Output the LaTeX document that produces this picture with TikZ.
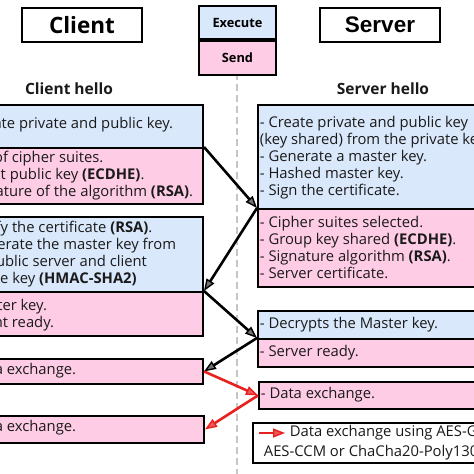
\documentclass[tikz,border=0pt]{standalone}
\usepackage{fontspec}
\setmainfont{Open Sans}
\newfontfamily\headfont{Liberation Sans}
\usepackage{tikz}
\usetikzlibrary{positioning}
\usetikzlibrary{arrows.meta}
\definecolor{execblue}{HTML}{DAE8FC}
\definecolor{sendpink}{HTML}{FFCCE6}
\definecolor{inkgray}{HTML}{1A1A1A}
\definecolor{dataRed}{HTML}{E8201E}
\tikzset{blue box/.style={rectangle,draw,line width=1.8pt,fill=execblue,inner sep=0pt},
         pink box/.style={rectangle,draw,line width=1.8pt,fill=sendpink,inner sep=0pt},
         title box/.style={rectangle,draw,line width=1.8pt,fill=white,minimum width=120,minimum height=34,font=\fontsize{22.5}{26}\selectfont\bfseries},
         line text/.style={inner sep=0pt,align=left,text=inkgray,font=\fontsize{14.8}{17}\selectfont},
         hello text/.style={inner sep=0pt,text=inkgray,font=\fontsize{15.5}{18}\selectfont\bfseries},
         msg/.style={line width=2.6pt,-{Triangle[length=12pt,width=9pt,fill=black!55,line width=1.4pt]}},
         data msg/.style={line width=2.6pt,dataRed,-{Triangle[length=12pt,width=9pt,fill=dataRed!75,line width=1.4pt]}},}

\begin{document}
\begin{tikzpicture}[x=1pt,y=-1pt,line width=1.8pt]
    \useasboundingbox (0,0) rectangle (474,474);
    \clip (0,0) rectangle (474,474);

    % timeline
    \draw[line width=1.8pt,gray!45,dash pattern=on 7pt off 4pt] (237,73) -- (237,474);

    % headers
    \node[title box] (client) at (82,25) {Client};
    \node[title box,font=\fontsize{22.5}{26}\selectfont\headfont\bfseries] (server) at (380,25) {Server};
    \node[blue box,minimum width=77,minimum height=33,font=\fontsize{12.8}{15}\selectfont\bfseries] (execute) at (237.5,22.5) {Execute};
    \node[pink box,minimum width=77,minimum height=34,font=\fontsize{12.8}{15}\selectfont\bfseries] (send) [below=0pt of execute] {Send};

    \node[hello text] (chello) at (69,89) {Client hello};
    \node[hello text] (shello) at (383,89) {Server hello};

    % client side
    \node[blue box,minimum width=240,minimum height=43,anchor=north east] (c1) at (204,104) {};
    \node[pink box,minimum width=240,minimum height=56,anchor=north east] (c2) at (204,147) {};
    \node[blue box,minimum width=240,minimum height=75,anchor=north east] (c3) at (204,216) {};
    \node[pink box,minimum width=240,minimum height=44,anchor=north east] (c4) at (204,291) {};
    \node[pink box,minimum width=240,minimum height=25,anchor=north east] (c5) at (204,358) {};
    \node[pink box,minimum width=240,minimum height=27,anchor=north east] (c6) at (205,415) {};

    \node[line text,anchor=east] (c1t) at (174,125) {- Create private and public key.};
    \node[line text,anchor=east] (c2t) at (194,175.5) {- List of cipher suites.\\- Client public key \textbf{(ECDHE)}.\\- Signature of the algorithm \textbf{(RSA)}.};
    \node[line text,anchor=east] (c3t) at (177,254) {- Verify the certificate \textbf{(RSA)}.\\- Generate the master key from\\the public server and client\\private key \textbf{(HMAC-SHA2)}};
    \node[line text,anchor=east] (c4t) at (55,315.5) {- Master key.\\- Client ready.};
    \node[line text,anchor=east] (c5t) at (77,371) {- Data exchange.};
    \node[line text,anchor=east] (c6t) at (77,428) {- Data exchange.};

    % server side
    \node[blue box,minimum width=240,minimum height=104,anchor=north west] (s1) at (257,104) {};
    \node[pink box,minimum width=240,minimum height=78,anchor=north west] (s2) at (257,208) {};
    \node[blue box,minimum width=240,minimum height=28,anchor=north west] (s3a) at (257,310) {};
    \node[pink box,minimum width=240,minimum height=28,anchor=north west] (s3b) at (257,338) {};
    \node[pink box,minimum width=240,minimum height=27,anchor=north west] (s4) at (258,381) {};
    \node[rectangle,draw,fill=white,minimum width=240,minimum height=40,anchor=north west] (legend) at (252,422) {};

    \node[line text,anchor=west] (s1t) at (259,157.5) {- Create private and public key\\(key shared) from the private key.\\- Generate a master key.\\- Hashed master key.\\- Sign the certificate.};
    \node[line text,anchor=west] (s2t) at (259,247.5) {- Cipher suites selected.\\- Group key shared \textbf{(ECDHE)}.\\- Signature algorithm \textbf{(RSA)}.\\- Server certificate.};
    \node[line text,anchor=west] (s3at) at (259,325) {- Decrypts the Master key.};
    \node[line text,anchor=west] (s3bt) at (259,353) {- Server ready.};
    \node[line text,anchor=west] (s4t) at (260,395) {- Data exchange.};

    \coordinate (legtail) at (259,433);
    \coordinate (leghead) at (285,433);
    \node[line text,anchor=west] (leg1) at (289,433) {Data exchange using AES-GCM,};
    \node[line text,anchor=west] (leg2) at (263,453) {AES-CCM or ChaCha20-Poly1305};

    % handshake
    \draw[msg] (c2.north east) -- (s2.north west);
    \draw[msg] (s2.north west) -- (c4.north east);
    \draw[msg] (c4.north east) -- (s3b.north west);
    \draw[msg] (s3b.north west) -- (c5.east);
    \draw[data msg] (c5.east) -- (s4.west);
    \draw[data msg] (s4.west) -- (c6.east);
    \draw[data msg] (legtail) -- (leghead);
\end{tikzpicture}
\end{document}
